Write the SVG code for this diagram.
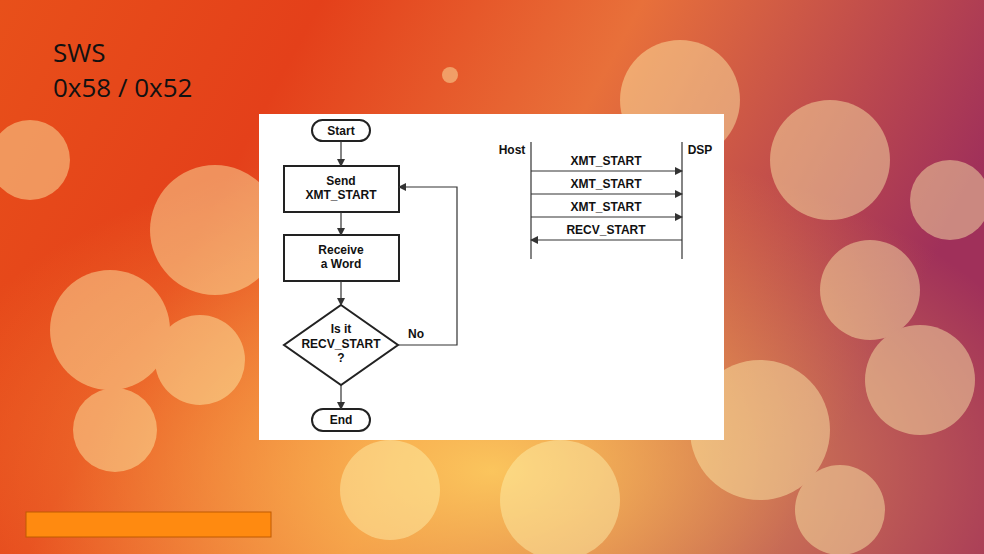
<svg xmlns="http://www.w3.org/2000/svg" width="984" height="554" viewBox="0 0 984 554">
<style>
.b{fill:#fff;stroke:#222;stroke-width:2}
.t{font-family:"Liberation Sans",Arial,sans-serif;font-weight:bold;font-size:12px;fill:#111;text-anchor:middle}
.l{stroke:#333;stroke-width:1.2;fill:none}
.bk{fill:#fff3b0}
</style>
<defs>
<linearGradient id="bg" x1="0" y1="0" x2="1" y2="0.3">
<stop offset="0" stop-color="#e8501a"/><stop offset="0.3" stop-color="#e4401a"/><stop offset="0.6" stop-color="#e8703a"/><stop offset="1" stop-color="#a0305a"/>
</linearGradient>
<radialGradient id="glow" cx="0.5" cy="0.85" r="0.6">
<stop offset="0" stop-color="#ffd060" stop-opacity="0.9"/><stop offset="1" stop-color="#ffb040" stop-opacity="0"/>
</radialGradient>
<marker id="a" markerWidth="8" markerHeight="8" refX="7" refY="4" orient="auto" markerUnits="userSpaceOnUse"><path d="M0,0 L8,4 L0,8z" fill="#333"/></marker>
</defs>
<rect width="984" height="554" fill="url(#bg)"/>
<rect width="984" height="554" fill="url(#glow)"/>
<g opacity="0.45">
<circle class="bk" cx="215" cy="230" r="65"/><circle class="bk" cx="110" cy="330" r="60"/><circle class="bk" cx="200" cy="360" r="45"/>
<circle class="bk" cx="115" cy="430" r="42"/><circle class="bk" cx="30" cy="160" r="40"/><circle class="bk" cx="830" cy="160" r="60"/>
<circle class="bk" cx="870" cy="290" r="50"/><circle class="bk" cx="920" cy="380" r="55"/><circle class="bk" cx="840" cy="510" r="45"/>
<circle class="bk" cx="760" cy="430" r="70"/><circle class="bk" cx="560" cy="500" r="60"/><circle class="bk" cx="680" cy="100" r="60"/>
<circle class="bk" cx="950" cy="200" r="40"/><circle class="bk" cx="390" cy="490" r="50"/><circle class="bk" cx="450" cy="75" r="8"/>
</g>
<text x="53" y="62" font-family="'Open Sans',sans-serif" font-size="26" fill="#111">SWS</text>
<text x="53" y="97" font-family="'Open Sans',sans-serif" font-size="26" fill="#111">0x58 / 0x52</text>
<rect x="26" y="512" width="245" height="25" fill="#ff8a10" stroke="#c05a00"/>
<rect x="259" y="114" width="465" height="326" fill="#fff"/>
<g id="start"><rect class="b" x="312" y="120" width="58" height="21" rx="10.5"/><text class="t" x="341" y="135">Start</text></g>
<g id="send"><rect class="b" x="284" y="166" width="115" height="46"/><text class="t" x="341" y="185">Send</text><text class="t" x="341" y="199">XMT_START</text></g>
<g id="recv"><rect class="b" x="284" y="235" width="115" height="46"/><text class="t" x="341" y="254">Receive</text><text class="t" x="341" y="268">a Word</text></g>
<g id="dec"><polygon class="b" points="341,305 398,345 341,385 284,345"/><text class="t" x="341" y="333">Is it</text><text class="t" x="341" y="348">RECV_START</text><text class="t" x="341" y="362">?</text></g>
<g id="end"><rect class="b" x="312" y="409" width="58" height="22" rx="11"/><text class="t" x="341" y="424">End</text></g>
<g id="seq">
<text class="t" x="512" y="154">Host</text><text class="t" x="700" y="154">DSP</text>
<line class="l" x1="531" y1="142" x2="531" y2="259"/><line class="l" x1="682" y1="142" x2="682" y2="259"/>
<text class="t" x="606" y="165">XMT_START</text><text class="t" x="606" y="188">XMT_START</text><text class="t" x="606" y="211">XMT_START</text><text class="t" x="606" y="234">RECV_START</text>
</g>
<g id="connectors">
<line class="l" x1="341" y1="141" x2="341" y2="166" marker-end="url(#a)"/>
<line class="l" x1="341" y1="212" x2="341" y2="235" marker-end="url(#a)"/>
<line class="l" x1="341" y1="281" x2="341" y2="305" marker-end="url(#a)"/>
<line class="l" x1="341" y1="385" x2="341" y2="409" marker-end="url(#a)"/>
<polyline class="l" points="398,345 457,345 457,187 399,187" marker-end="url(#a)"/>
<line class="l" x1="531" y1="171" x2="682" y2="171" marker-end="url(#a)"/>
<line class="l" x1="531" y1="194" x2="682" y2="194" marker-end="url(#a)"/>
<line class="l" x1="531" y1="217" x2="682" y2="217" marker-end="url(#a)"/>
<line class="l" x1="682" y1="240" x2="531" y2="240" marker-end="url(#a)"/>
<text class="t" x="416" y="338">No</text>
</g>
</svg>
